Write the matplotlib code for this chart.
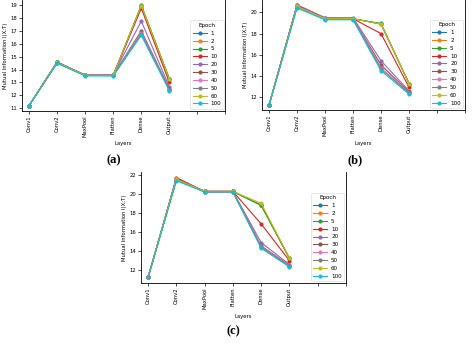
import matplotlib
matplotlib.use("Agg")
import matplotlib.pyplot as plt

# ======== data ========
layers = ['Conv1', 'Conv2', 'MaxPool', 'Flatten', 'Dense', 'Output']
epochs = [1, 2, 5, 10, 20, 30, 40, 50, 60, 100]

# panel (a)
mi_a = [
    [11.2, 14.55, 13.55, 13.55, 18.90, 13.25],   # 1
    [11.2, 14.55, 13.55, 13.55, 18.90, 13.25],   # 2
    [11.2, 14.55, 13.55, 13.55, 19.00, 13.30],   # 5
    [11.2, 14.60, 13.55, 13.55, 18.75, 13.00],   # 10
    [11.2, 14.55, 13.60, 13.60, 17.75, 12.65],   # 20
    [11.2, 14.55, 13.55, 13.55, 17.00, 12.50],   # 30
    [11.2, 14.50, 13.55, 13.55, 16.85, 12.45],   # 40
    [11.2, 14.50, 13.55, 13.55, 16.75, 12.45],   # 50
    [11.2, 14.55, 13.55, 13.55, 18.95, 13.25],   # 60
    [11.2, 14.50, 13.50, 13.50, 16.65, 12.35],   # 100
]

# panel (b)
mi_b = [
    [11.25, 20.60, 19.40, 19.40, 18.90, 13.30],
    [11.25, 20.60, 19.40, 19.40, 18.90, 13.30],
    [11.25, 20.60, 19.40, 19.40, 18.95, 13.30],
    [11.25, 20.70, 19.45, 19.40, 18.00, 12.95],
    [11.25, 20.70, 19.50, 19.50, 15.45, 12.60],
    [11.25, 20.60, 19.40, 19.40, 15.05, 12.50],
    [11.25, 20.55, 19.40, 19.40, 14.80, 12.45],
    [11.25, 20.50, 19.35, 19.35, 14.65, 12.40],
    [11.25, 20.55, 19.40, 19.40, 18.90, 13.30],
    [11.25, 20.40, 19.30, 19.30, 14.50, 12.30],
]

# panel (c)
mi_c = [
    [11.25, 21.50, 20.25, 20.25, 18.80, 13.25],
    [11.25, 21.50, 20.25, 20.25, 18.80, 13.25],
    [11.25, 21.50, 20.25, 20.25, 18.80, 13.25],
    [11.25, 21.70, 20.25, 20.25, 16.85, 13.00],
    [11.25, 21.55, 20.25, 20.25, 14.90, 12.60],
    [11.25, 21.60, 20.20, 20.20, 14.55, 12.50],
    [11.25, 21.50, 20.20, 20.20, 14.45, 12.45],
    [11.25, 21.45, 20.20, 20.20, 14.40, 12.40],
    [11.25, 21.50, 20.25, 20.25, 19.00, 13.30],
    [11.25, 21.35, 20.20, 20.20, 14.30, 12.35],
]

FS = 3.8

fig = plt.figure(figsize=(4.74, 3.51), dpi=100)


def draw_panel(rect, data, ylim, yticks):
    ax = fig.add_axes(rect)
    x = list(range(len(layers)))
    for ep, vals in zip(epochs, data):
        ax.plot(x, vals, marker='o', ms=2.0, lw=0.8, label=str(ep))
    ax.set_xlim(-0.25, 7)
    ax.set_ylim(*ylim)
    ax.set_xticks(range(8))
    ax.set_xticklabels(layers + ['', ''], rotation=90, fontsize=FS)
    ax.set_yticks(yticks)
    ax.tick_params(axis='y', labelsize=FS, length=2, width=0.5, pad=1.5)
    ax.tick_params(axis='x', length=2, width=0.5, pad=1.5)
    ax.set_xlabel('Layers', fontsize=FS, labelpad=3)
    ax.set_ylabel('Mutual Information I(X;T)', fontsize=FS, labelpad=2)
    ax.spines['top'].set_visible(False)
    for s in ['left', 'right', 'bottom']:
        ax.spines[s].set_linewidth(0.6)
    leg = ax.legend(title='Epoch', loc='lower right', fontsize=4.1,
                    title_fontsize=4.1, labelspacing=0.5, handlelength=2.4,
                    borderaxespad=0.3, borderpad=0.45, handletextpad=0.7,
                    frameon=True)
    leg.get_frame().set_linewidth(0.4)
    return ax


W, H = 474.0, 351.0
draw_panel([22 / W, (H - 110.7) / H, 203.5 / W, 110.7 / H], mi_a,
           (10.81, 19.39), range(11, 20))
draw_panel([262 / W, (H - 110) / H, 203 / W, 110 / H], mi_b,
           (10.81, 21.16), range(12, 21, 2))
draw_panel([141 / W, (H - 283) / H, 205 / W, 111 / H], mi_c,
           (10.67, 22.28), range(12, 23, 2))

cap = dict(fontsize=9, fontweight='bold', family='Liberation Serif',
           ha='center', va='center')
fig.text(114 / W, 1 - 160 / H, '(a)', **cap)
fig.text(355 / W, 1 - 160 / H, '(b)', **cap)
fig.text(233 / W, 1 - 331 / H, '(c)', **cap)

fig.savefig('out.png', dpi=100)
